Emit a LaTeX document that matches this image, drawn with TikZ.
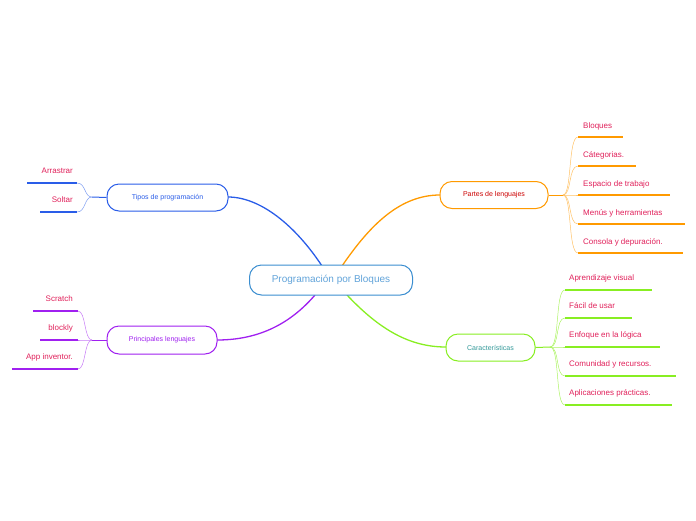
\documentclass[tikz,border=0pt]{standalone}
\usepackage{fontspec}
\setmainfont{Liberation Sans}
\begin{document}
\begin{tikzpicture}[x=1pt,y=-1pt,
 box/.style={draw,rounded corners=12pt,line width=1pt,fill=white,inner sep=0pt,align=center},
 leaf/.style={font=\fontsize{8}{9}\selectfont,text=leafc,anchor=west,inner sep=0pt},
 br/.style={line width=1.3pt},
 tw/.style={line width=0.5pt}]
\definecolor{cb}{HTML}{2A5DE8}\definecolor{co}{HTML}{FF9A00}
\definecolor{cg}{HTML}{88EE22}\definecolor{cp}{HTML}{A020F0}
\definecolor{leafc}{HTML}{E0205A}\definecolor{cc}{HTML}{3B8ED0}
\useasboundingbox (0,0) rectangle (696,520);
% branches
\coordinate (c1) at (322,266);\coordinate (c2) at (342,266);
\coordinate (c3) at (347,295);\coordinate (c4) at (315,295);
\draw[br,cb] (c1) .. controls (295,225) and (260,197) .. (228,197);
\draw[br,co] (c2) .. controls (370,225) and (400,195) .. (440,195);
\draw[br,cg] (c3) .. controls (380,330) and (410,347) .. (446,347);
\draw[br,cp] (c4) .. controls (285,330) and (250,340) .. (217,340);
\node[box,draw=cc,minimum width=163pt,minimum height=30pt,text=cc!80,font=\fontsize{10}{12}\selectfont] (main) at (331,280) {Programación por Bloques};
\node[box,draw=cb,minimum width=121pt,minimum height=27pt,text=cb,font=\fontsize{7}{9}\selectfont] (tipos) at (167.5,197.5) {Tipos de programación};
\node[box,draw=co,minimum width=108pt,minimum height=27pt,text=red!80!black,font=\fontsize{7}{9}\selectfont] (partes) at (494,195) {Partes de lenguajes};
\node[box,draw=cg,minimum width=89pt,minimum height=27pt,text=teal!80,font=\fontsize{7}{9}\selectfont] (car) at (490.5,347.5) {Características};
\node[box,draw=cp,minimum width=110pt,minimum height=28pt,text=cp,font=\fontsize{7}{9}\selectfont] (pri) at (162,340) {Principales lenguajes};
% orange leaves
\coordinate (jo) at (563,195);
\draw[co,line width=1pt] (partes.east) -- (jo);
\foreach \y/\e/\t [count=\i] in {137/623/Bloques,166/636/Cátegorias.,195/670/Espacio de trabajo,224/685/Menús y herramientas,253/683/Consola y depuración.}{
 \coordinate (os\i) at (578,\y);\coordinate (oe\i) at (\e,\y);
 \draw[co!60,tw] (jo) .. controls (572,195) and (568,\y) .. (os\i);
 \draw[co,line width=1.3pt] (os\i) -- (oe\i);
 \node[leaf] (ot\i) at (583,\y-11) {\t};}
% green leaves
\coordinate (jg) at (550,347);
\draw[cg,line width=1pt] (car.east) -- (jg);
\foreach \y/\e/\t [count=\i] in {290/652/Aprendizaje visual,318/632/Fácil de usar,347/660/Enfoque en la lógica,376/676/Comunidad y recursos.,405/672/Aplicaciones prácticas.}{
 \coordinate (gs\i) at (565,\y);\coordinate (ge\i) at (\e,\y);
 \draw[cg!70,tw] (jg) .. controls (560,347) and (555,\y) .. (gs\i);
 \draw[cg,line width=1.3pt] (gs\i) -- (ge\i);
 \node[leaf] (gt\i) at (569,\y-12) {\t};}
% blue leaves
\coordinate (jb) at (92,197);
\draw[cb,line width=1pt] (tipos.west) -- (jb);
\foreach \y/\s/\t [count=\i] in {183/27/Arrastrar,212/40/Soltar}{
 \coordinate (bs\i) at (77,\y);\coordinate (be\i) at (\s,\y);
 \draw[cb!60,tw] (jb) .. controls (84,197) and (86,\y) .. (bs\i);
 \draw[cb,line width=1.3pt] (bs\i) -- (be\i);
 \node[leaf,anchor=east] (bt\i) at (73,\y-12) {\t};}
% purple leaves
\coordinate (jp) at (92,340);
\draw[cp,line width=1pt] (pri.west) -- (jp);
\foreach \y/\s/\t [count=\i] in {311/33/Scratch,340/40/blockly,369/12/App inventor.}{
 \coordinate (ps\i) at (78,\y);\coordinate (pe\i) at (\s,\y);
 \draw[cp!60,tw] (jp) .. controls (84,340) and (86,\y) .. (ps\i);
 \draw[cp,line width=1.3pt] (ps\i) -- (pe\i);
 \node[leaf,anchor=east] (pt\i) at (73,\y-12) {\t};}
\end{tikzpicture}
\end{document}
